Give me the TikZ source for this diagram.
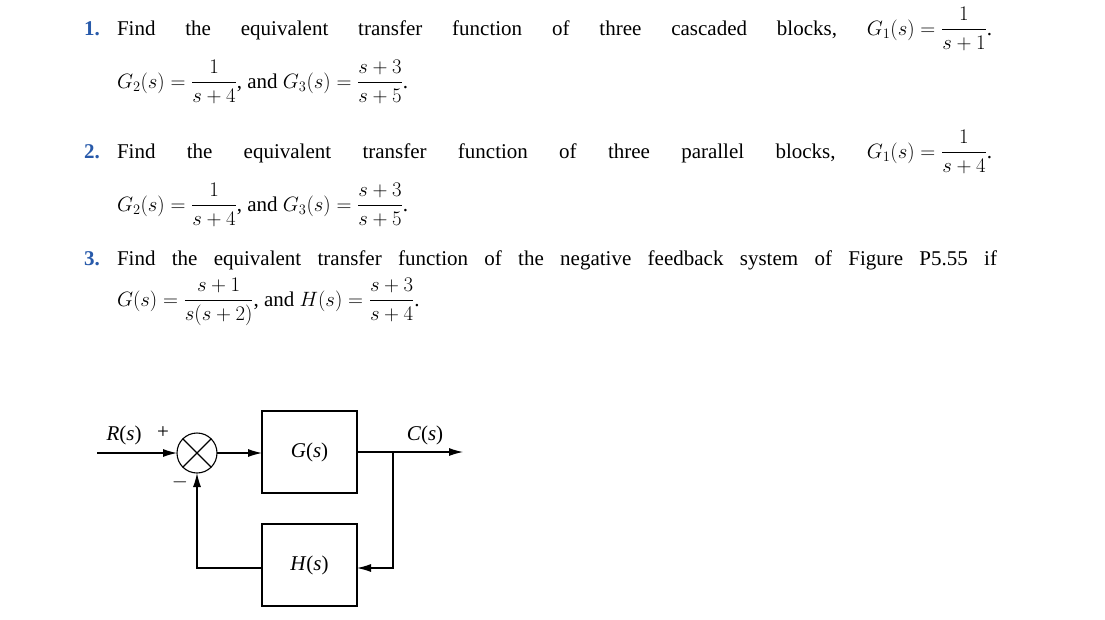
\documentclass[tikz,border=0pt]{standalone}
\usepackage{amsmath}
\usepackage{fontspec}
\setmainfont{Liberation Serif}
\usetikzlibrary{arrows.meta}
\definecolor{numblue}{RGB}{40,90,170}
\newcommand{\num}[1]{\textcolor{numblue}{\textbf{#1}}}
\begin{document}
\begin{tikzpicture}[x=1pt,y=-1pt,
  every node/.style={inner sep=0pt, outer sep=0pt},
  txt/.style={anchor=base west, font=\fontsize{21}{25}\selectfont},
  lbl/.style={font=\fontsize{21}{25}\selectfont},
  blk/.style={draw, line width=1.8pt, minimum width=95pt, minimum height=82pt},
  ln/.style={line width=1.1pt},
  arr/.style={ln, -{Latex[length=14pt,width=8pt]}}]
\useasboundingbox (0,0) rectangle (1105,619);
\node[txt] (n1) at (84,35) {\num{1.}};
\node[txt] (l1) at (117,35) {\hbox to 875pt{Find\hfill the\hfill equivalent\hfill transfer\hfill function\hfill of\hfill three\hfill cascaded\hfill blocks,\hfill $G_1(s)=\dfrac{1}{s+1}$.}};
\node[txt] (l2) at (117,88) {$G_2(s)=\dfrac{1}{s+4}$, and $G_3(s)=\dfrac{s+3}{s+5}$.};
\node[txt] (n2) at (84,158) {\num{2.}};
\node[txt] (l3) at (117,158) {\hbox to 875pt{Find\hfill the\hfill equivalent\hfill transfer\hfill function\hfill of\hfill three\hfill parallel\hfill blocks,\hfill $G_1(s)=\dfrac{1}{s+4}$.}};
\node[txt] (l4) at (117,211) {$G_2(s)=\dfrac{1}{s+4}$, and $G_3(s)=\dfrac{s+3}{s+5}$.};
\node[txt] (n3) at (84,265) {\num{3.}};
\node[txt] (l5) at (117,265) {\hbox to 880pt{Find\hfill the\hfill equivalent\hfill transfer\hfill function\hfill of\hfill the\hfill negative\hfill feedback\hfill system\hfill of\hfill Figure\hfill P5.55\hfill if}};
\node[txt] (l6) at (117,306) {$G(s)=\dfrac{s+1}{s(s+2)}$, and $H(s)=\dfrac{s+3}{s+4}$.};
% diagram
\node[draw, circle, ln, minimum size=40pt] (sum) at (197,453) {};
\draw[ln] (sum.north west) -- (sum.south east) (sum.north east) -- (sum.south west);
\node[blk, lbl] (G) at (309.5,452) {\textit{G}(\textit{s})};
\node[blk, lbl] (H) at (309.5,565) {\textit{H}(\textit{s})};
\coordinate (in) at (97,453);
\coordinate (out) at (463,452);
\coordinate (br) at (393,452);
\coordinate (fb) at (197,568);
\draw[arr] (in) -- (sum.west);
\draw[arr] (sum.east) -- (G.west |- sum.east);
\draw[arr] (G.east |- br) -- (out);
\draw[arr] (br) |- (H.east |- 0,568);
\draw[arr] (H.west |- fb) -- (fb) -- (sum.south);
\node[lbl, anchor=base] (R) at (124,440) {\textit{R}(\textit{s})};
\node[lbl, anchor=base] (C) at (425,440) {\textit{C}(\textit{s})};
\node[lbl] (plus) at (163,433) {+};
\node[lbl] (minus) at (180,482) {$-$};
\end{tikzpicture}
\end{document}
